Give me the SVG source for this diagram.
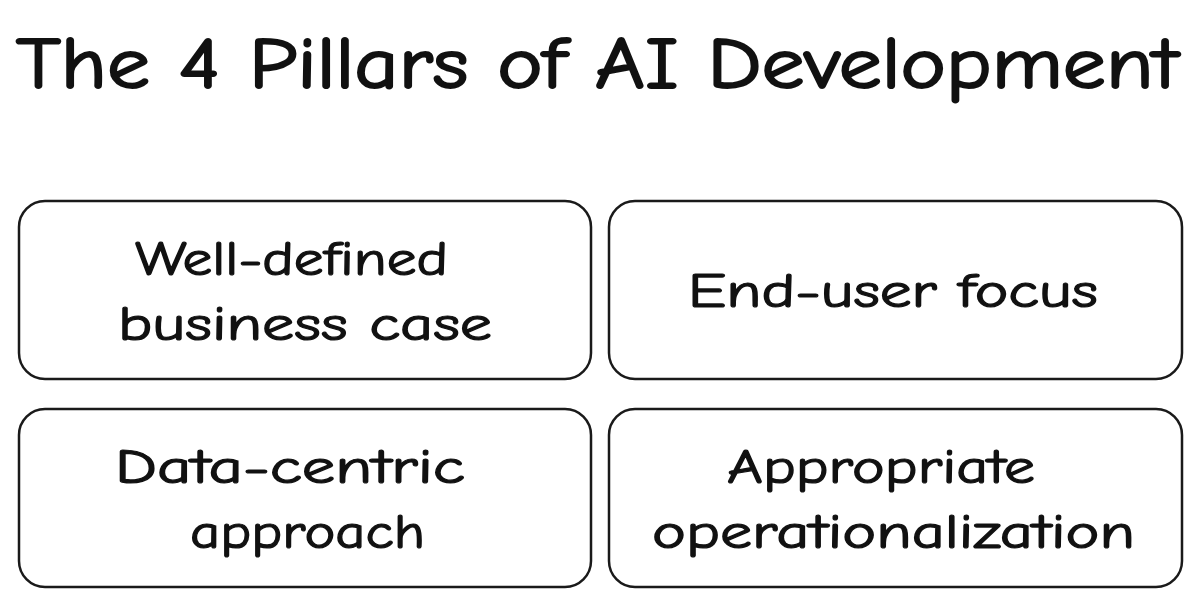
<svg xmlns="http://www.w3.org/2000/svg" width="1200" height="607" viewBox="0 0 1200 607">
<style>
.box{fill:#fff;stroke:#1a1a1a;stroke-width:2.5}
.t{font-family:"Comic Neue","Liberation Sans",sans-serif;fill:#111;stroke:#111;stroke-width:1.2;font-size:48px}
.title{font-family:"Comic Neue","Liberation Sans",sans-serif;fill:#111;stroke:#111;stroke-width:2;font-size:72px}
</style>
<rect width="1200" height="607" fill="#fff"/>
<text class="title" x="16" y="88" textLength="1162" lengthAdjust="spacingAndGlyphs">The 4 Pillars of AI Development</text>
<g id="n1"><rect class="box" x="19" y="201" width="572" height="178" rx="26"/>
<text class="t" x="135" y="275" textLength="313" lengthAdjust="spacingAndGlyphs">Well-defined</text>
<text class="t" x="118" y="340" textLength="374" lengthAdjust="spacingAndGlyphs">business case</text></g>
<g id="n2"><rect class="box" x="609" y="201" width="573" height="178" rx="26"/>
<text class="t" x="688" y="307" textLength="410" lengthAdjust="spacingAndGlyphs">End-user focus</text></g>
<g id="n3"><rect class="box" x="19" y="409" width="572" height="178" rx="26"/>
<text class="t" x="115" y="483" textLength="350" lengthAdjust="spacingAndGlyphs">Data-centric</text>
<text class="t" x="190" y="548" textLength="235" lengthAdjust="spacingAndGlyphs">approach</text></g>
<g id="n4"><rect class="box" x="609" y="409" width="573" height="178" rx="26"/>
<text class="t" x="727" y="483" textLength="308" lengthAdjust="spacingAndGlyphs">Appropriate</text>
<text class="t" x="652" y="548" textLength="483" lengthAdjust="spacingAndGlyphs">operationalization</text></g>
<g id="connectors"/>
</svg>
